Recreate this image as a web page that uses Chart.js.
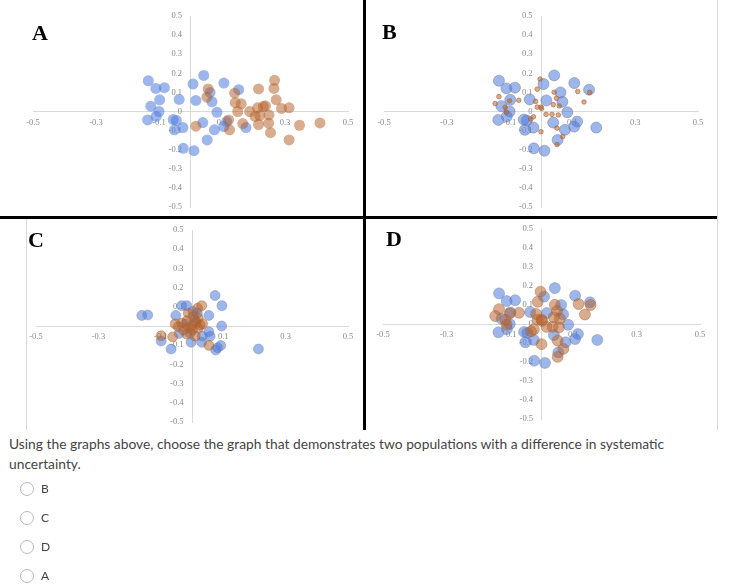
<!DOCTYPE html>
<html>
<head>
<meta charset="utf-8">
<script src="https://cdn.jsdelivr.net/npm/chart.js@4.4.1/dist/chart.umd.min.js"></script>
<style>
  html, body { margin: 0; padding: 0; background: #fff; }
  #page { position: relative; width: 735px; height: 588px; overflow: hidden; }
  .panel { position: absolute; }
  .letter { position: absolute; font: bold 22px "Liberation Serif", "Times New Roman", serif; line-height: 22px; color: #000; }
  .bar { position: absolute; background: #000; }
  .thin { position: absolute; background: #d9d9d9; }
  .question { position: absolute; left: 9px; top: 434px; font: 13.8px Lato, "Open Sans", sans-serif; line-height: 20px; color: #444; }
  .radio { position: absolute; left: 20px; width: 12px; height: 12px; border: 1px solid #b8b8b8; border-radius: 50%; }
  .opt { position: absolute; left: 41px; font: 12px Lato, "Open Sans", sans-serif; color: #444; line-height: 14px; }
</style>
</head>
<body>
<div id="page">
  <canvas id="chartA" class="panel"></canvas>
  <canvas id="chartB" class="panel"></canvas>
  <canvas id="chartC" class="panel"></canvas>
  <canvas id="chartD" class="panel"></canvas>

  <div class="letter" style="left:32px; top:22px;">A</div>
  <div class="letter" style="left:382px; top:21px;">B</div>
  <div class="letter" style="left:28px; top:229px;">C</div>
  <div class="letter" style="left:386px; top:228px;">D</div>

  <!-- separators -->
  <div class="bar" style="left:363px; top:0; width:3px; height:430px;"></div>
  <div class="bar" style="left:0; top:216px; width:717px; height:3px;"></div>
  <div class="thin" style="left:717px; top:0; width:1px; height:430px;"></div>
  <div class="thin" style="left:26px; top:219px; width:1px; height:211px;"></div>

  <div class="question">Using the graphs above, choose the graph that demonstrates two populations with a difference in systematic<br>uncertainty.</div>
  <div class="radio" style="top:482px;"></div><div class="opt" style="top:482px;">B</div>
  <div class="radio" style="top:511px;"></div><div class="opt" style="top:511px;">C</div>
  <div class="radio" style="top:540px;"></div><div class="opt" style="top:540px;">D</div>
  <div class="radio" style="top:569px;"></div><div class="opt" style="top:569px;">A</div>
</div>

<script>
// ---- tick labels ----
const xTicks = [-0.5, -0.3, -0.1, 0.1, 0.3, 0.5];
const yTicks = [-0.5, -0.4, -0.3, -0.2, -0.1, 0, 0.1, 0.2, 0.3, 0.4, 0.5];

// ---- blue population (same in A, B and D) ----
const blueX = [-0.134, -0.110, -0.083, 0.008, 0.042, 0.106, 0.153, 0.062, -0.098, -0.036,
               0.017, 0.068, -0.126, -0.100, 0.084, -0.109, -0.136, -0.055, -0.045, 0.039,
               0.115, 0.106, -0.024, -0.051, 0.076, 0.176, 0.053, -0.023, 0.011];
const blueY = [0.161, 0.121, 0.125, 0.144, 0.189, 0.149, 0.114, 0.100, 0.061, 0.063,
               0.058, 0.051, 0.028, 0.000, -0.004, -0.026, -0.044, -0.042, -0.047, -0.058,
               -0.053, -0.079, -0.084, -0.096, -0.096, -0.084, -0.149, -0.193, -0.205];

// ---- orange population, graph A (shifted) ----
const orangeAX = [0.267, 0.265, 0.216, 0.056, 0.140, 0.052, 0.272, 0.142, 0.161, 0.231,
                  0.238, 0.289, 0.313, 0.150, 0.188, 0.213, 0.205, 0.220, 0.249, 0.121,
                  0.166, 0.216, 0.248, 0.017, 0.346, 0.411, 0.124, 0.254, 0.313];
const orangeAY = [0.163, 0.121, 0.118, 0.118, 0.096, 0.075, 0.061, 0.046, 0.040, 0.026,
                  0.030, 0.016, 0.019, 0.000, 0.000, 0.019, -0.026, -0.021, -0.018, -0.044,
                  -0.063, -0.068, -0.061, -0.077, -0.072, -0.060, -0.096, -0.111, -0.149];

// ---- orange population, graphs B and D ----
const orangeX = [-0.003, -0.012, 0.042, 0.117, 0.155, -0.134, -0.071, -0.100, -0.017, 0.049,
                 0.137, -0.146, 0.039, 0.058, -0.012, 0.000, 0.002, -0.114, 0.016, 0.035,
                 0.055, -0.024, -0.033, 0.051, 0.000, 0.069, 0.051, -0.110];
const orangeY = [0.170, 0.117, 0.101, 0.105, 0.100, 0.078, 0.059, 0.056, 0.053, 0.069,
                 0.050, 0.042, 0.036, 0.029, 0.023, 0.023, 0.016, 0.022, -0.015, -0.015,
                 -0.018, -0.028, -0.039, -0.087, -0.106, -0.131, -0.173, -0.004];

// ---- graph C ----
const blueCX = [0.074, 0.096, -0.033, -0.017, -0.161, -0.142, -0.052, 0.003, 0.017, 0.054,
                0.095, -0.041, -0.006, 0.033, 0.054, 0.058, -0.099, -0.003, 0.031, 0.092,
                0.082, 0.076, -0.067, 0.213, 0.010, -0.020];
const blueCY = [0.159, 0.106, 0.106, 0.106, 0.055, 0.057, 0.055, 0.076, 0.067, 0.055,
                0.000, -0.039, -0.037, -0.053, -0.030, -0.053, -0.078, -0.085, -0.085, -0.102,
                -0.113, -0.125, -0.120, -0.120, 0.030, 0.010];
const orangeCX = [0.031, 0.018, -0.012, 0.004, 0.020, -0.054, -0.033, -0.016, 0.013, 0.034,
                  -0.012, 0.020, -0.027, 0.001, -0.099, -0.062, -0.017, 0.010, 0.054, 0.000,
                  0.026, -0.044];
const orangeCY = [0.106, 0.092, 0.067, 0.049, 0.041, 0.011, 0.014, 0.028, 0.018, 0.011,
                  -0.009, -0.012, -0.021, -0.021, -0.051, -0.057, -0.042, -0.053, -0.101, 0.000,
                  0.005, -0.004];

const BLUE = 'rgba(80, 125, 220, 0.56)';
const ORANGE = 'rgba(180, 95, 40, 0.52)';

function pts(xs, ys) {
    return xs.map((x, i) => ({ x: x, y: ys[i] }));
}

// axes cross at the origin, Excel style
function axis(ticks, other, pad, label) {
    return {
        type: 'linear',
        min: -0.5,
        max: 0.5,
        position: { [other]: 0 },
        grid: { display: false, drawTicks: false },
        border: { display: true, color: '#d9d9d9', width: 1 },
        afterBuildTicks: s => { s.ticks = ticks.map(v => ({ value: v })); },
        ticks: {
            autoSkip: false,
            maxRotation: 0,
            color: '#8a8a8a',
            padding: pad,
            font: { family: '"Liberation Serif", serif', size: 8.5 },
            callback: label
        }
    };
}

// centred y axes ignore ticks.padding, so keep a gap with two en spaces
const xLabel = v => String(v);
const yLabel = v => String(v) + '\u2002\u2002';

function makePanel(id, box, pad, datasets) {
    const cv = document.getElementById(id);
    cv.style.left = box[0] + 'px';
    cv.style.top = box[1] + 'px';
    cv.width = box[2];
    cv.height = box[3];
    cv.style.width = box[2] + 'px';
    cv.style.height = box[3] + 'px';
    new Chart(cv, {
        type: 'scatter',
        data: { datasets: datasets },
        options: {
            responsive: false,
            animation: false,
            layout: { padding: pad, autoPadding: false },
            plugins: { legend: { display: false }, tooltip: { enabled: false } },
            scales: { x: axis(xTicks, 'y', 6, xLabel), y: axis(yTicks, 'x', 0, yLabel) }
        }
    });
}

function ds(xs, ys, color, r, border, order) {
    return {
        data: pts(xs, ys),
        backgroundColor: color,
        borderColor: border || color,
        borderWidth: border ? 1 : 0,
        pointRadius: r,
        order: order
    };
}

makePanel('chartA', [0, 0, 362, 216], { left: 33, right: 14, top: 16, bottom: 9 }, [
    ds(blueX, blueY, BLUE, 5.5, null, 2),
    ds(orangeAX, orangeAY, ORANGE, 5.5, null, 1)
]);
makePanel('chartB', [366, 0, 351, 216], { left: 18, right: 19, top: 16, bottom: 9 }, [
    ds(blueX, blueY, BLUE, 5.5, 'rgba(120,125,150,0.5)', 2),
    ds(orangeX, orangeY, ORANGE, 2.3, 'rgba(170,95,50,0.6)', 1)
]);
makePanel('chartC', [0, 219, 362, 211], { left: 36, right: 14, top: 11, bottom: 8 }, [
    ds(blueCX, blueCY, BLUE, 5, 'rgba(120,125,150,0.4)', 2),
    ds(orangeCX, orangeCY, ORANGE, 5, 'rgba(170,95,50,0.4)', 1)
]);
makePanel('chartD', [366, 219, 351, 211], { left: 17, right: 17, top: 10, bottom: 11 }, [
    ds(blueX, blueY, BLUE, 5.5, 'rgba(120,125,150,0.4)', 2),
    ds(orangeX, orangeY, ORANGE, 5.5, 'rgba(170,95,50,0.4)', 1)
]);
</script>
</body>
</html>
